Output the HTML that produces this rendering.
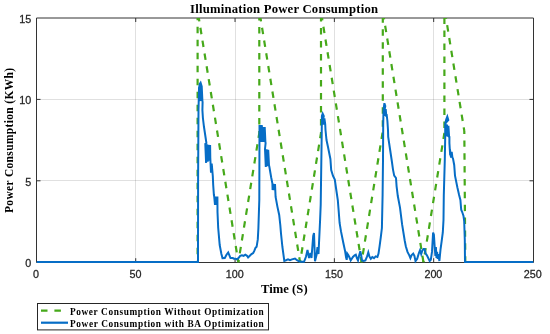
<!DOCTYPE html>
<html><head><meta charset="utf-8"><title>Illumination Power Consumption</title>
<style>
html,body{margin:0;padding:0;background:#fff;}
body{width:550px;height:334px;overflow:hidden;}
svg{display:block;}
.tk{font-family:"Liberation Sans",Arial,sans-serif;font-size:10px;fill:#262626;stroke:#262626;stroke-width:0.25px;}
.bt{font-family:"Liberation Serif","Times New Roman",serif;font-weight:bold;fill:#000;}
</style></head><body>
<svg width="550" height="334" viewBox="0 0 550 334">
<rect width="550" height="334" fill="#fff"/>
<defs><clipPath id="pa"><rect x="36.5" y="18.0" width="497.0" height="246.2"/></clipPath></defs>
<g>
<g stroke="#262626" stroke-opacity="0.14" stroke-width="1" shape-rendering="crispEdges"><line x1="135.72" y1="18.0" x2="135.72" y2="262.2"/><line x1="235.04" y1="18.0" x2="235.04" y2="262.2"/><line x1="334.36" y1="18.0" x2="334.36" y2="262.2"/><line x1="433.68" y1="18.0" x2="433.68" y2="262.2"/><line x1="36.5" y1="180.80" x2="533.5" y2="180.80"/><line x1="36.5" y1="99.40" x2="533.5" y2="99.40"/></g>
<path d="M36.5,18.0H533.5V262.5H36.5Z" fill="none" stroke="#333" stroke-width="1"/>
<g stroke="#333" stroke-width="1"><line x1="135.72" y1="262.2" x2="135.72" y2="258.2"/><line x1="135.72" y1="18.0" x2="135.72" y2="22.0"/><line x1="235.04" y1="262.2" x2="235.04" y2="258.2"/><line x1="235.04" y1="18.0" x2="235.04" y2="22.0"/><line x1="334.36" y1="262.2" x2="334.36" y2="258.2"/><line x1="334.36" y1="18.0" x2="334.36" y2="22.0"/><line x1="433.68" y1="262.2" x2="433.68" y2="258.2"/><line x1="433.68" y1="18.0" x2="433.68" y2="22.0"/><line x1="36.5" y1="180.80" x2="40.5" y2="180.80"/><line x1="533.5" y1="180.80" x2="529.5" y2="180.80"/><line x1="36.5" y1="99.40" x2="40.5" y2="99.40"/><line x1="533.5" y1="99.40" x2="529.5" y2="99.40"/></g>
<g clip-path="url(#pa)" fill="none" stroke-linejoin="miter">
<g stroke="#46a91a" stroke-width="2.2"><line x1="197.60" y1="17.00" x2="197.60" y2="262.20" stroke-dasharray="6.50 6.50" stroke-dashoffset="3.20"/><line x1="198.64" y1="17.00" x2="238.36" y2="262.20" stroke-dasharray="6.50 6.50" stroke-dashoffset="2.06"/><line x1="259.30" y1="17.00" x2="259.30" y2="132.94" stroke-dasharray="6.50 6.50" stroke-dashoffset="3.00"/><line x1="259.30" y1="132.94" x2="238.36" y2="262.20" stroke-dasharray="6.50 6.50" stroke-dashoffset="1.56"/><line x1="260.34" y1="17.00" x2="300.06" y2="262.20" stroke-dasharray="6.46 6.46" stroke-dashoffset="2.08"/><line x1="321.00" y1="17.00" x2="321.00" y2="132.94" stroke-dasharray="6.50 6.50" stroke-dashoffset="2.00"/><line x1="321.00" y1="132.94" x2="300.06" y2="262.20" stroke-dasharray="6.50 6.50" stroke-dashoffset="1.15"/><line x1="321.84" y1="17.00" x2="361.56" y2="262.20" stroke-dasharray="6.47 6.47" stroke-dashoffset="3.11"/><line x1="382.80" y1="17.00" x2="382.80" y2="131.09" stroke-dasharray="6.50 6.50" stroke-dashoffset="0.80"/><line x1="382.80" y1="131.09" x2="361.56" y2="262.20" stroke-dasharray="6.50 6.50" stroke-dashoffset="11.47"/><line x1="383.74" y1="17.00" x2="423.46" y2="262.20" stroke-dasharray="6.47 6.47" stroke-dashoffset="4.12"/><line x1="444.40" y1="17.00" x2="444.40" y2="132.94" stroke-dasharray="6.50 6.50" stroke-dashoffset="12.60"/><line x1="444.40" y1="132.94" x2="423.46" y2="262.20" stroke-dasharray="6.50 6.50" stroke-dashoffset="0.34"/><line x1="445.84" y1="17.00" x2="464.31" y2="131.00" stroke-dasharray="6.47 6.47" stroke-dashoffset="4.64"/><line x1="464.31" y1="131.00" x2="465.31" y2="262.20" stroke-dasharray="6.43 6.43" stroke-dashoffset="3.46"/></g>
<polyline points="36.5,262.1 198.0,262.1 198.1,180.0 198.5,110.0 199.0,88.0 199.8,84.0 200.6,82.8 201.6,86.0 199.4,101.0 200.2,86.0 200.9,101.0 201.7,86.0 202.4,101.0 202.6,102.0 202.4,110.0 202.9,118.0 204.0,127.0 205.8,139.0 206.4,143.0 205.3,144.0 206.1,162.9 206.9,144.3 207.7,161.7 208.5,144.7 209.3,160.6 210.1,145.0 210.3,158.0 211.0,172.7 211.7,163.6 212.8,176.0 213.2,185.0 213.9,195.0 214.2,196.5 215.0,205.0 215.8,196.5 216.6,205.0 217.4,196.5 217.5,212.0 218.2,228.0 219.7,245.0 221.4,254.0 222.5,258.1 224.8,258.0 226.5,254.7 228.2,252.4 229.4,255.3 230.5,258.1 232.8,258.1 233.9,258.7 235.6,258.7 236.8,259.3 238.5,258.1 240.2,255.8 241.9,255.3 243.6,255.8 245.3,254.7 247.0,255.8 248.1,257.5 249.8,255.8 251.5,254.1 253.2,253.0 254.4,250.7 255.5,247.9 256.6,246.8 257.8,239.4 258.4,228.0 259.3,200.0 259.5,126.0 261.8,126.0 262.6,131.0 263.8,128.2 265.4,128.5 260.5,127.0 261.2,142.0 261.9,127.0 262.6,142.0 263.3,127.0 264.0,142.0 264.7,127.0 265.4,142.0 265.6,143.0 265.0,149.0 265.8,167.0 266.6,149.4 267.4,166.1 268.2,149.7 269.0,165.2 269.4,167.0 271.2,177.5 272.4,183.5 272.6,190.0 273.4,184.0 274.2,190.0 275.0,184.0 275.6,197.0 277.4,206.6 279.2,215.0 280.3,225.0 281.0,233.5 282.4,247.0 284.3,260.8 286.0,260.2 288.0,259.3 290.0,260.2 292.0,259.4 295.0,258.5 297.0,260.2 299.0,261.3 301.0,261.8 304.0,261.8 305.2,259.0 306.0,256.5 307.5,250.0 309.0,258.0 310.5,253.0 311.5,258.0 313.2,236.0 314.0,233.0 315.0,261.3 316.5,255.0 317.5,247.0 318.5,254.0 320.1,220.0 320.7,205.0 321.7,135.0 321.9,116.0 322.7,113.6 323.8,116.0 322.3,123.0 323.0,116.8 323.7,124.6 324.4,118.3 325.2,124.0 325.5,130.0 326.5,140.0 328.0,147.0 330.4,159.0 331.2,170.0 333.0,176.0 334.8,179.6 336.0,188.0 337.8,200.0 338.6,210.0 339.6,223.0 341.0,231.4 343.3,242.8 345.0,250.7 346.1,257.5 346.7,259.8 347.3,253.6 348.4,255.3 349.5,257.5 350.7,260.4 351.8,258.7 352.9,257.0 354.6,255.3 355.8,254.7 356.9,258.1 358.0,260.4 359.2,255.3 360.3,251.3 361.2,255.3 362.0,260.4 363.7,261.0 365.4,260.4 367.1,256.4 368.3,252.4 369.4,256.4 370.8,258.7 372.3,257.0 374.0,258.1 375.7,256.4 377.4,257.0 378.5,253.6 379.6,246.2 380.8,237.1 381.9,228.0 382.6,195.0 383.0,160.0 383.2,125.0 383.5,110.0 384.4,103.2 385.3,106.0 383.6,115.0 384.3,107.0 385.0,116.0 385.7,109.0 386.4,117.0 386.6,114.0 387.4,121.0 388.0,130.0 388.2,137.0 390.0,149.0 391.8,161.0 393.0,169.6 394.2,175.6 396.0,178.0 396.6,186.3 397.8,196.0 400.0,207.6 402.1,224.4 404.7,240.5 405.8,246.2 407.5,251.9 409.3,255.3 410.4,258.1 411.5,255.3 413.2,253.6 414.4,255.8 415.5,261.0 417.2,258.7 418.9,253.0 420.0,250.2 421.2,254.1 422.3,250.7 423.5,249.0 424.6,249.0 425.7,253.6 426.9,255.3 428.6,258.7 429.7,261.0 430.8,259.8 432.0,251.9 433.1,232.5 433.9,234.8 434.8,248.5 435.4,256.0 435.9,247.0 436.5,258.0 437.1,251.9 437.7,259.0 438.2,254.1 439.4,261.0 440.5,249.6 441.6,241.6 442.8,232.5 443.5,220.0 443.8,195.0 444.8,160.0 445.2,137.0 445.2,124.0 446.2,119.5 447.3,116.6 448.3,120.0 445.6,123.0 446.3,136.2 447.0,124.5 447.7,136.6 448.4,125.9 449.1,136.9 449.4,137.0 449.4,143.0 450.0,152.5 450.3,152.0 451.0,157.5 451.7,152.0 452.4,157.5 453.0,158.5 454.2,165.0 455.0,175.6 457.4,187.5 459.1,195.0 460.4,200.0 461.2,209.7 462.2,212.0 463.5,216.0 464.2,221.0 464.8,240.0 465.0,262.1 533.5,262.1" stroke="#066dc6" stroke-width="2"/>
</g>
<g class="tk"><text transform="translate(36.10,277.5) scale(1.08,1)" text-anchor="middle">0</text><text transform="translate(135.42,277.5) scale(1.08,1)" text-anchor="middle">50</text><text transform="translate(234.74,277.5) scale(1.08,1)" text-anchor="middle">100</text><text transform="translate(334.06,277.5) scale(1.08,1)" text-anchor="middle">150</text><text transform="translate(433.38,277.5) scale(1.08,1)" text-anchor="middle">200</text><text transform="translate(532.70,277.5) scale(1.08,1)" text-anchor="middle">250</text><text transform="translate(31.3,267.20) scale(1.08,1)" text-anchor="end">0</text><text transform="translate(31.3,185.80) scale(1.08,1)" text-anchor="end">5</text><text transform="translate(31.3,104.40) scale(1.08,1)" text-anchor="end">10</text><text transform="translate(31.3,23.00) scale(1.08,1)" text-anchor="end">15</text></g>
<text class="bt" x="190" y="13" font-size="12.7" textLength="188" lengthAdjust="spacing">Illumination Power Consumption</text>
<text class="bt" x="261" y="293.2" font-size="12.6" textLength="46.6" lengthAdjust="spacing">Time (S)</text>
<text class="bt" font-size="11.4" transform="translate(12.5,213) scale(1.1,1) rotate(-90)" textLength="145" lengthAdjust="spacing">Power Consumption (KWh)</text>
<rect x="37.5" y="303.5" width="231" height="26.4" fill="#fff" stroke="#262626" stroke-width="1"/>
<line x1="41" y1="310.6" x2="61.4" y2="310.6" stroke="#46a91a" stroke-width="2.2" stroke-dasharray="6.5 6.9"/>
<line x1="41" y1="322.7" x2="68" y2="322.7" stroke="#066dc6" stroke-width="2.2"/>
<text class="bt" x="70" y="314.7" font-size="9.3" textLength="193.6" lengthAdjust="spacing">Power Consumption Without Optimization</text>
<text class="bt" x="70" y="326.7" font-size="9.3" textLength="193.6" lengthAdjust="spacing">Power Consumption with BA Optimization</text>
</g>
</svg>
</body></html>
